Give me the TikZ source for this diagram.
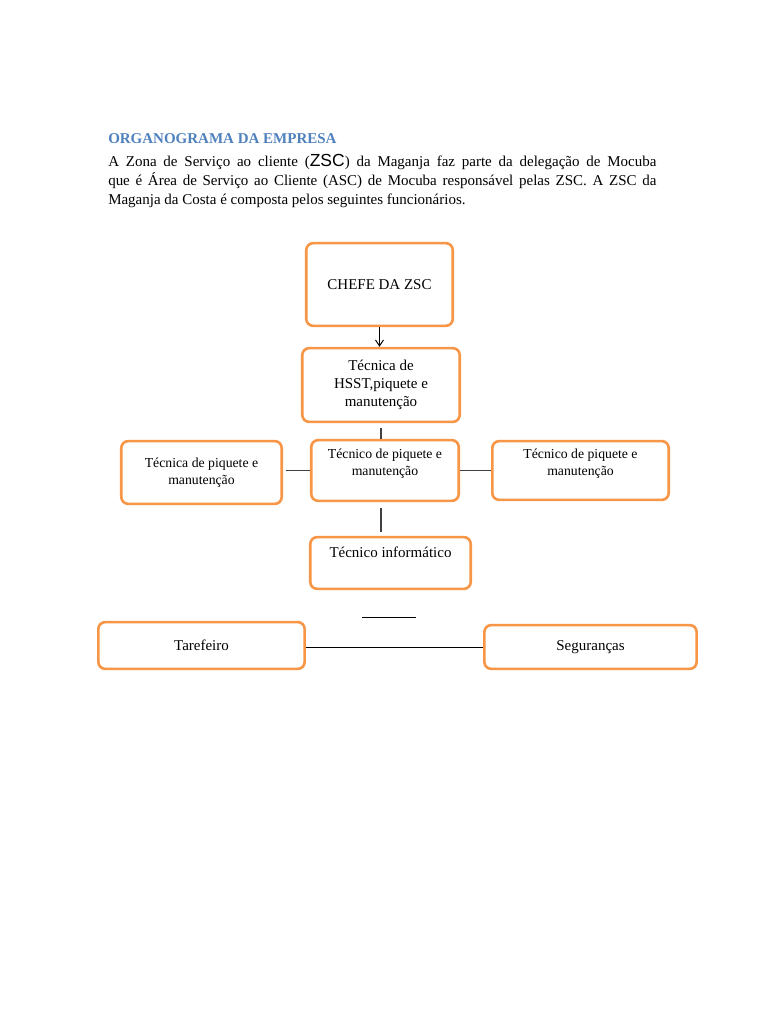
\documentclass[tikz,border=0pt]{standalone}
\usepackage{fontspec}
\setmainfont{Liberation Serif}
\newfontfamily\zscfont{Liberation Sans}
\usepackage{tikz}
\usetikzlibrary{arrows.meta, positioning, calc}
\usepackage{xcolor}
\definecolor{orgorange}{HTML}{F79646}
\definecolor{orgblue}{HTML}{4F81BD}
\definecolor{orggrey}{HTML}{404040}
\newcommand{\pxl}{0.7975pt}

\begin{document}
\begin{tikzpicture}[
    x=0.028125cm, y=-0.028125cm,
    font=\fontsize{11}{13.6}\selectfont,
    box/.style={draw=orgorange, line width=2.6*\pxl, rounded corners=7*\pxl,
                align=center, inner sep=0pt, fill=white},
    txt/.style={align=center, inner sep=0pt},
    link/.style={orggrey, line width=1.5*\pxl},
    arr/.style={-{Straight Barb[length=6*\pxl, width=8*\pxl]}, black, line width=1*\pxl}]

  \useasboundingbox (0,0) rectangle (768,1024);

  % ---- heading and intro text ----
  \node[anchor=base west, inner sep=0pt, text=orgblue,
        font=\fontsize{12}{14}\selectfont\bfseries] (title) at (108,144)
        {ORGANOGRAMA DA EMPRESA};
  \node[anchor=north west, inner sep=0pt, text width=550*\pxl, align=justify,
        font=\fontsize{12}{15.15}\selectfont] (intro) at (108,154)
        {A Zona de Serviço ao cliente ({\zscfont\fontsize{14}{15.15}\selectfont ZSC}) da Maganja faz parte da delegação de Mocuba\linebreak
         que é Área de Serviço ao Cliente (ASC) de Mocuba responsável pelas ZSC. A ZSC da\linebreak
         Maganja da Costa é composta pelos seguintes funcionários.};

  % ---- chart boxes ----
  \node[box, minimum width=147*\pxl, minimum height=83*\pxl,
        font=\fontsize{12}{14}\selectfont] (chefe) at (379.5,284.5) {CHEFE DA ZSC};
  \node[box, minimum width=158*\pxl, minimum height=74*\pxl,
        font=\fontsize{12}{14.4}\selectfont] (hsst) at (381,385)
        {Técnica de\\HSST,piquete e\\manutenção};
  \node[box, minimum width=161*\pxl, minimum height=63*\pxl] (tleft) at (201.5,472.5)
        {Técnica de piquete e\\manutenção};
  \node[box, minimum width=148*\pxl, minimum height=61*\pxl] (tmid) at (385,470.5) {};
  \node[txt] (tmidtxt) at (385,464) {Técnico de piquete e\\manutenção};
  \node[box, minimum width=177*\pxl, minimum height=59*\pxl] (tright) at (580.5,470.5) {};
  \node[txt] (trighttxt) at (580.5,463.5) {Técnico de piquete e\\manutenção};
  \node[box, minimum width=161*\pxl, minimum height=52*\pxl] (info) at (390.5,563) {};
  \node[txt, font=\fontsize{12}{14}\selectfont] (infotxt) at (390.5,552) {Técnico informático};
  \node[box, minimum width=207*\pxl, minimum height=47*\pxl,
        font=\fontsize{12}{14}\selectfont] (taref) at (201.5,645.5) {Tarefeiro};
  \node[box, minimum width=213*\pxl, minimum height=44*\pxl,
        font=\fontsize{12}{14}\selectfont] (segur) at (590.5,647) {Seguranças};

  % ---- connectors ----
  \draw[arr] (chefe.south) -- (chefe.south |- hsst.north);
  \draw[link, shorten <=5*\pxl] (hsst.south) -- (hsst.south |- tmid.north);
  \draw[link, shorten <=6*\pxl, shorten >=4*\pxl] (hsst.south |- tmid.south) -- (hsst.south |- info.north);
  \draw[link, shorten <=3*\pxl] (tleft.east |- tmid) -- (tmid.west);
  \draw[link] (tmid.east) -- (tright.west |- tmid);
  \draw[black, line width=1*\pxl] (taref.east |- segur) -- (segur.west);

  % loose rule above the bottom row
  \coordinate (rulea) at (362,617);
  \coordinate (ruleb) at (416,617);
  \draw[black, line width=1*\pxl] (rulea) -- (ruleb);
\end{tikzpicture}
\end{document}
